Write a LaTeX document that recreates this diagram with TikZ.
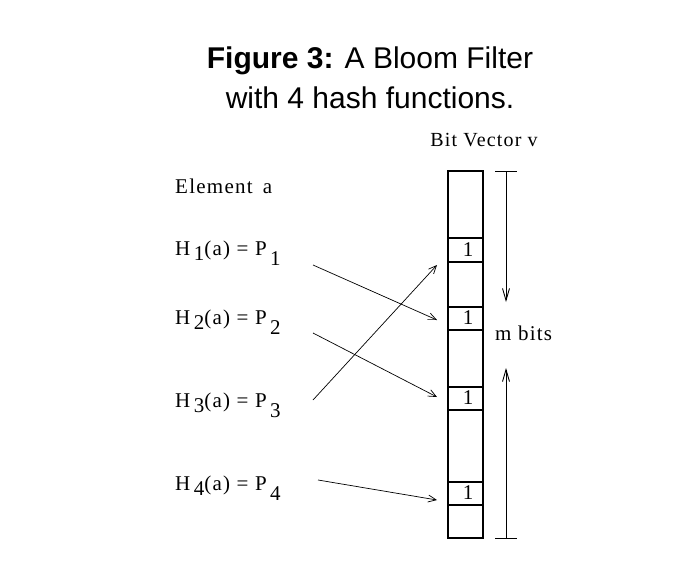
\documentclass[tikz,border=0pt]{standalone}
\usepackage{fontspec}
\setmainfont{Liberation Serif}[LetterSpace=6]
\newfontfamily\titlefont{Liberation Sans}
\usetikzlibrary{arrows.meta}
\begin{document}
\begin{tikzpicture}[x=1pt,y=-1pt,
  lbl/.style={anchor=west,inner sep=0pt,font=\fontsize{21}{24}\selectfont},
  hash/.style={-{Straight Barb[length=8pt,width=7pt]},line width=0.7pt},
  cellline/.style={line width=1.2pt}]
\useasboundingbox (0,0) rectangle (694,568);
\node[font=\titlefont\fontsize{30}{40}\selectfont,align=center] (title) at (370,78) {\textbf{Figure 3:} A Bloom Filter\\with 4 hash functions.};
\node[font=\fontsize{20}{22}\selectfont] (bv) at (484,140) {Bit Vector v};
\draw[cellline] (448,171) rectangle (483,538);
\foreach \y in {238,262,307,330,387,410,482,505} \draw[cellline] (448,\y) -- (483,\y);
\foreach \y/\n in {250/c1,318/c2,398/c3,493/c4} \node[inner sep=0pt,font=\fontsize{21}{20}\selectfont] (\n) at (468,\y) {1};
\coordinate (bt) at (506,171); \coordinate (bb) at (506,538);
\draw[line width=0.9pt] (495,171) -- (517,171) (495,538) -- (517,538);
\coordinate (dt) at (506,302); \coordinate (ut) at (506,368);
\draw[line width=0.9pt,-{Straight Barb[length=12pt,width=7pt]}] (bt) -- (dt);
\draw[line width=0.9pt,-{Straight Barb[length=12pt,width=7pt]}] (bb) -- (ut);
\node[lbl] (mb) at (495,333) {m bits};
\node[lbl] (el) at (175,186) {Element\, a};
\node[lbl] (h1) at (175,253) {H\,\raisebox{-5pt}{1}(a) = P\raisebox{-10pt}{\,1}};
\node[lbl] (h2) at (175,322) {H\,\raisebox{-5pt}{2}(a) = P\raisebox{-10pt}{\,2}};
\node[lbl] (h3) at (175,405) {H\,\raisebox{-5pt}{3}(a) = P\raisebox{-10pt}{\,3}};
\node[lbl] (h4) at (175,488) {H\,\raisebox{-5pt}{4}(a) = P\raisebox{-10pt}{\,4}};
\coordinate (s1) at (313,265); \coordinate (e1) at (437,320);
\coordinate (s2) at (313,333); \coordinate (e2) at (437,397);
\coordinate (s3) at (313,400); \coordinate (e3) at (437,265);
\coordinate (s4) at (318,480); \coordinate (e4) at (437,500);
\draw[hash] (s1) -- (e1);
\draw[hash] (s2) -- (e2);
\draw[hash] (s3) -- (e3);
\draw[hash] (s4) -- (e4);
\end{tikzpicture}
\end{document}
